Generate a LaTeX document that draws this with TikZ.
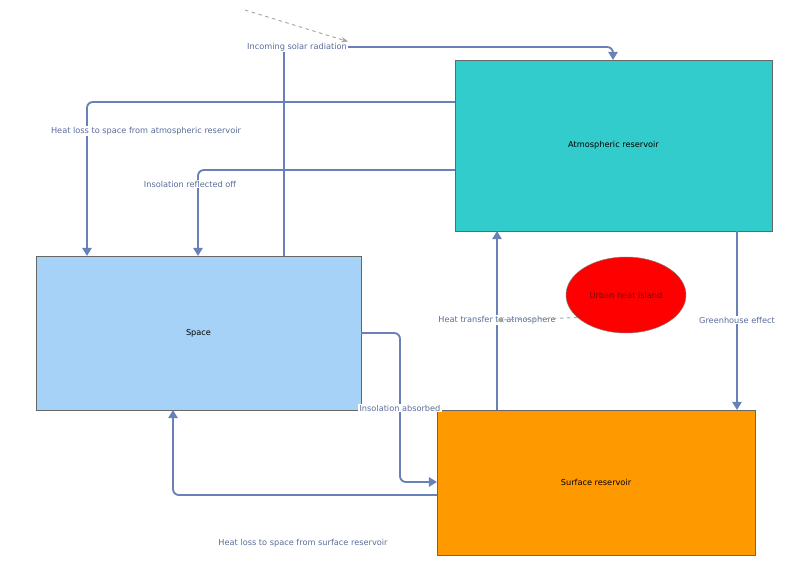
\documentclass[tikz,border=0pt]{standalone}
\usepackage{fontspec}
\setmainfont{DejaVu Sans}
\usetikzlibrary{arrows.meta,shapes.geometric}
\definecolor{flowblue}{HTML}{6A80B8}
\definecolor{labelblue}{HTML}{5A6C9A}
\definecolor{atmoscyan}{HTML}{33CCCC}
\definecolor{spaceblue}{HTML}{A6D2F7}
\definecolor{surforange}{HTML}{FF9900}
\begin{document}
\begin{tikzpicture}[x=0.03cm, y=-0.03cm,
    reservoir/.style={draw=black!60, minimum width=#1*0.03cm, font=\scriptsize},
    flow/.style={draw=flowblue, line width=1.6pt, rounded corners=5pt, -{Triangle[length=7pt,width=8pt]}},
    hint/.style={draw=gray!70, dashed, thick, -{Stealth[length=6pt]}},
    flowlabel/.style={fill=white, inner sep=1pt, text=labelblue, font=\scriptsize}]
  \useasboundingbox (0,0) rectangle (800,565);
  % reservoirs
  \node[reservoir=317, minimum height=171*0.03cm, fill=atmoscyan] (atmos) at (613.5,145.5) {Atmospheric reservoir};
  \node[reservoir=325, minimum height=154*0.03cm, fill=spaceblue] (space) at (198.5,333) {Space};
  \node[reservoir=318, minimum height=145*0.03cm, fill=surforange] (surf) at (596,482.5) {Surface reservoir};
  \node[ellipse, draw=black!50, fill=red, minimum width=120*0.03cm, minimum height=76*0.03cm, text=red!50!black, font=\scriptsize, inner sep=0pt] (urban) at (626,295) {Urban heat island};
  % flows
  \draw[flow] (284,256) -- (284,47) -- (613,47) -- (613,60);
  \draw[flow] (455,102) -- (87,102) -- (87,256);
  \draw[flow] (455,170) -- (198,170) -- (198,256);
  \draw[flow] (737,231) -- (737,410);
  \draw[flow] (497,410) -- (497,231);
  \draw[flow] (361,333) -- (400,333) -- (400,482) -- (437,482);
  \draw[flow] (437,495) -- (173,495) -- (173,410);
  % labels
  \node[flowlabel] (lsolar) at (297,47) {Incoming solar radiation};
  \node[flowlabel] (latmloss) at (146,131) {Heat loss to space from atmospheric reservoir};
  \node[flowlabel] (lrefl) at (190,184) {Insolation reflected off};
  \node[flowlabel] (lgreen) at (737,320) {Greenhouse effect};
  \node[flowlabel] (ltrans) at (497,320) {Heat transfer to atmosphere};
  \node[flowlabel] (labs) at (400,408) {Insolation absorbed};
  \node[flowlabel] (lsurfloss) at (303,543) {Heat loss to space from surface reservoir};
  % hints
  \coordinate (sun) at (245,10);
  \draw[hint] (sun) -- (lsolar.north east);
  \draw[hint] (urban.205) -- (ltrans.center);
\end{tikzpicture}
\end{document}
